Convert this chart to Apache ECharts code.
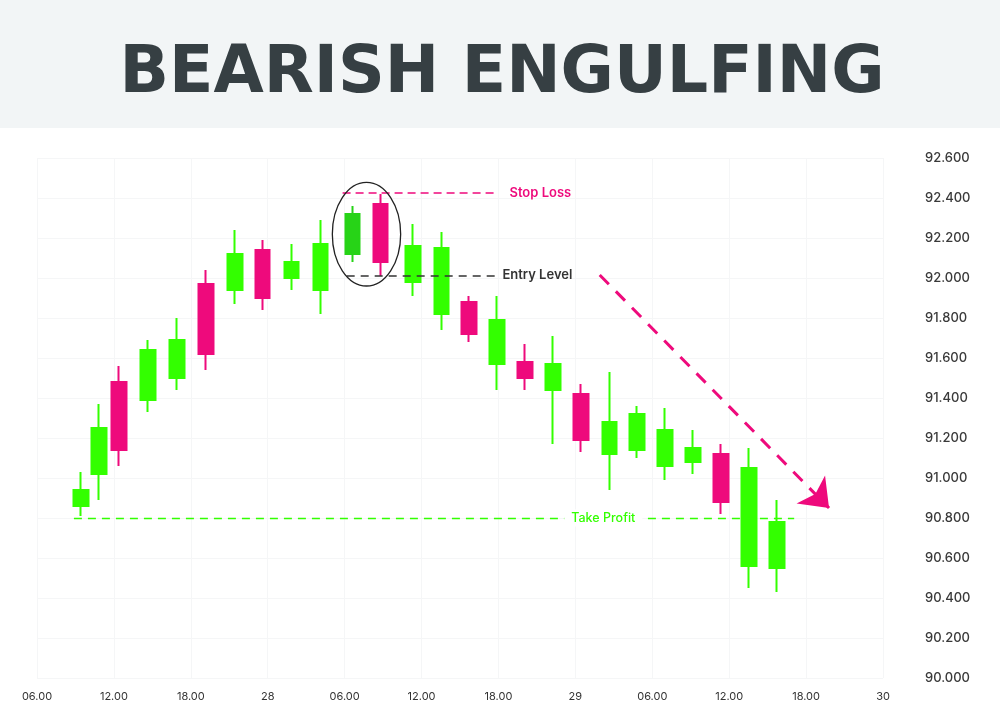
<!DOCTYPE html>
<html>
<head>
<meta charset="utf-8">
<script src="https://cdn.jsdelivr.net/npm/echarts@6/dist/echarts.min.js"></script>
<style>
  html, body { margin: 0; padding: 0; background: #ffffff; }
  #chart { width: 1000px; height: 714px; }
</style>
</head>
<body>
<div id="chart"></div>
<script>
// ---- data ----
const chartTitle = 'BEARISH ENGULFING';
// candle times in hours from day 27 00:00
const times  = [9.43, 10.83, 12.39, 14.65, 16.91, 19.17, 21.43, 23.61, 25.87, 28.13, 30.60, 32.81, 35.35, 37.54, 39.72, 41.90, 44.08, 46.26, 48.45, 50.65, 52.81, 54.99, 57.17, 59.35, 61.53, 63.72];
const opens  = [90.86, 91.02, 91.48, 91.39, 91.50, 91.97, 91.94, 92.14, 92.00, 91.94, 92.12, 92.37, 91.98, 91.82, 91.88, 91.57, 91.58, 91.44, 91.42, 91.12, 91.14, 91.06, 91.08, 91.12, 90.56, 90.55];
const closes = [90.94, 91.25, 91.14, 91.64, 91.69, 91.62, 92.12, 91.90, 92.08, 92.17, 92.32, 92.08, 92.16, 92.15, 91.72, 91.79, 91.50, 91.57, 91.19, 91.28, 91.32, 91.24, 91.15, 90.88, 91.05, 90.78];
const lows   = [90.81, 90.89, 91.06, 91.33, 91.44, 91.54, 91.87, 91.84, 91.94, 91.82, 92.08, 92.01, 91.91, 91.74, 91.68, 91.44, 91.44, 91.17, 91.13, 90.94, 91.10, 90.99, 91.02, 90.82, 90.45, 90.43];
const highs  = [91.03, 91.37, 91.56, 91.69, 91.80, 92.04, 92.24, 92.19, 92.17, 92.29, 92.36, 92.42, 92.27, 92.23, 91.91, 91.91, 91.67, 91.71, 91.47, 91.53, 91.36, 91.35, 91.24, 91.17, 91.15, 90.89];
const xTickLabels = ['06.00', '12.00', '18.00', '28', '06.00', '12.00', '18.00', '29', '06.00', '12.00', '18.00', '30'];
const engulfIndex = [10, 11];            // the bullish + engulfing bearish pair
const stopLoss = { label: 'Stop Loss', value: 92.425, from: 29.84, to: 42.0 };
const entryLevel = { label: 'Entry Level', value: 92.013, from: 30.16, to: 41.84 };
const takeProfit = { label: 'Take Profit', value: 90.80, from: 8.88, to: 65.07, labelAt: 50.18 };
const trendArrow = { from: [49.9, 92.015], to: [67.79, 90.85] };

// ---- styles ----
const GREEN = '#33ff00';
const GREEN_DARK = '#27d317';
const PINK = '#ee0a7c';
const FONT = 'Inter, "Open Sans", sans-serif';
const TITLE_FONT = '"DejaVu Sans", sans-serif';

const candleData = times.map((t, i) => {
  const item = { value: [t, opens[i], closes[i], lows[i], highs[i]] };
  if (i === engulfIndex[0]) item.itemStyle = { color: GREEN_DARK, borderColor: GREEN_DARK };
  return item;
});

const chart = echarts.init(document.getElementById('chart'), null, { renderer: 'canvas' });

function baseGraphics() {
  return [
    { type: 'rect', z: -10, shape: { x: 0, y: 0, width: 1000, height: 128 }, style: { fill: '#f2f5f6' } },
    { type: 'text', z: 10, style: {
        text: chartTitle, x: 502, y: 75, textAlign: 'center', textVerticalAlign: 'middle',
        fill: '#363f43', font: 'bold 65px ' + TITLE_FONT
    } }
  ];
}

const option = {
  animation: false,
  backgroundColor: '#ffffff',
  graphic: baseGraphics(),
  grid: { left: 37, right: 117, top: 158, bottom: 36, containLabel: false },
  xAxis: {
    type: 'value', min: 6, max: 72, interval: 6,
    axisLine: { show: false }, axisTick: { show: false },
    splitLine: { show: true, lineStyle: { color: '#f5f6f7', width: 1 } },
    axisLabel: {
      margin: 13, color: '#333', fontSize: 11, fontFamily: FONT,
      formatter: v => xTickLabels[Math.round((v - 6) / 6)] || ''
    }
  },
  yAxis: {
    type: 'value', position: 'right', min: 90, max: 92.6, interval: 0.2,
    axisLine: { show: false }, axisTick: { show: false },
    splitLine: { show: true, lineStyle: { color: '#f5f6f7', width: 1 } },
    axisLabel: {
      margin: 42, color: '#3a3a3a', fontSize: 13, fontWeight: 500, fontFamily: FONT,
      formatter: v => v.toFixed(3)
    }
  },
  series: [{
    type: 'candlestick',
    dimensions: ['t', 'open', 'close', 'low', 'high'],
    encode: { x: 0, y: [1, 2, 3, 4] },
    barWidth: 15,
    itemStyle: { color: GREEN, borderColor: GREEN, color0: PINK, borderColor0: PINK, borderWidth: 2 },
    data: candleData,
    markLine: {
      silent: true, symbol: ['none', 'none'], animation: false,
      data: [
        [
          { coord: [stopLoss.from, stopLoss.value], lineStyle: { color: PINK, type: [8, 5], width: 1.5 },
            label: { show: true, position: 'end', distance: 11, formatter: stopLoss.label, color: PINK, fontSize: 13, fontWeight: 600, fontFamily: FONT } },
          { coord: [stopLoss.to, stopLoss.value] }
        ],
        [
          { coord: [entryLevel.from, entryLevel.value], lineStyle: { color: '#333', type: [8, 6], width: 1.5 },
            label: { show: true, position: 'end', distance: 6, formatter: entryLevel.label, color: '#333', fontSize: 13, fontWeight: 600, fontFamily: FONT } },
          { coord: [entryLevel.to, entryLevel.value] }
        ],
        [
          { coord: [takeProfit.from, takeProfit.value], lineStyle: { color: GREEN, type: [8, 6], width: 1.3 },
            label: { show: false } },
          { coord: [takeProfit.to, takeProfit.value] }
        ],
        [
          { coord: trendArrow.from, symbol: 'none', lineStyle: { color: PINK, type: [13, 10], width: 3 }, label: { show: false } },
          { coord: trendArrow.to, symbol: 'arrow', symbolSize: [30, 26] }
        ]
      ]
    },
    markPoint: {
      silent: true, symbol: 'rect', symbolSize: 0, animation: false,
      data: [{
        coord: [takeProfit.labelAt, takeProfit.value],
        label: { show: true, position: 'inside', formatter: takeProfit.label, color: GREEN, fontSize: 12.5, fontWeight: 500,
                 fontFamily: FONT, backgroundColor: '#ffffff', padding: [2, 7] }
      }]
    }
  }]
};

chart.setOption(option);

// ellipse around the engulfing pair, computed from its data
const ia = engulfIndex[0], ib = engulfIndex[1];
const ecx = (times[ia] + times[ib]) / 2;
const eTop = Math.max(highs[ia], highs[ib]) + 0.058;
const eBottom = Math.min(lows[ia], lows[ib]) - 0.05;
const pA = chart.convertToPixel({ gridIndex: 0 }, [times[ia], eTop]);
const pB = chart.convertToPixel({ gridIndex: 0 }, [times[ib], eBottom]);
const pc = chart.convertToPixel({ gridIndex: 0 }, [ecx, (eTop + eBottom) / 2]);
const gfx = baseGraphics();
gfx.push({ type: 'ellipse', z: 20, silent: true,
  shape: { cx: pc[0], cy: pc[1], rx: (pB[0] - pA[0]) / 2 + 20, ry: (pB[1] - pA[1]) / 2 },
  style: { fill: 'none', stroke: '#222', lineWidth: 1.3 } });
chart.setOption({ graphic: gfx });
</script>
</body>
</html>
